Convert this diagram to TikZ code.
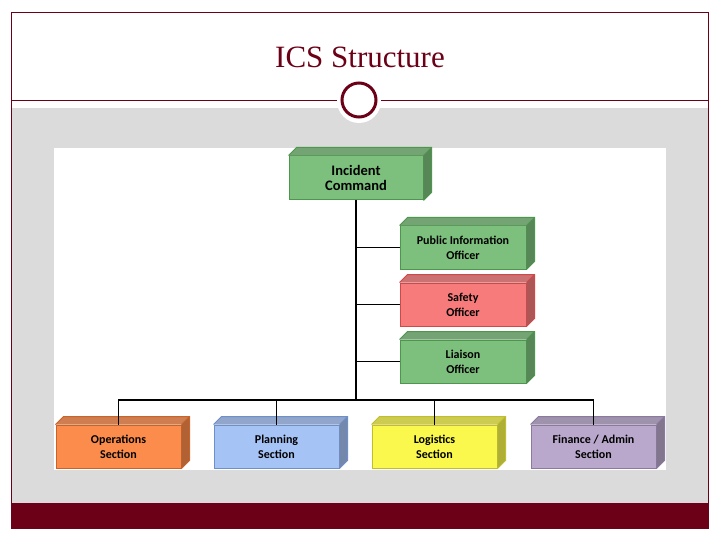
\documentclass[tikz,border=0pt]{standalone}
\usepackage{fontspec}
\setmainfont{Liberation Serif}
\newfontfamily\boxfont{Carlito}
\definecolor{maroon}{HTML}{6B0016}
\definecolor{gfill}{HTML}{7DC07D}\definecolor{gline}{HTML}{4E954E}
\definecolor{rfill}{HTML}{F77B7B}\definecolor{rline}{HTML}{D04848}
\definecolor{ofill}{HTML}{FB8C4C}\definecolor{oline}{HTML}{C8642A}
\definecolor{bfill}{HTML}{A6C3F5}\definecolor{bline}{HTML}{6F8FC8}
\definecolor{yfill}{HTML}{FAF84C}\definecolor{yline}{HTML}{C0BE30}
\definecolor{pfill}{HTML}{B9A8CC}\definecolor{pline}{HTML}{8A7AA0}
\tikzset{
  unit/.style={draw=#1line, fill=#1fill, line width=1pt, align=center,
    font=\boxfont\bfseries\fontsize{12}{15}\selectfont, inner sep=0pt},
  link/.style={line width=1.8pt, black}
}
% \cube{name}{colour key}{x}{y}{width}{height}{text}
\newcommand{\cube}[7]{%
  \node[unit=#2, minimum width=#5pt, minimum height=#6pt] (#1) at (#3,#4) {#7};
  \fill[#2fill!80!black!90] (#1.north west) -- ++(8,-8) -- ([shift={(8,-8)}]#1.north east) -- (#1.north east) -- cycle;
  \fill[#2fill!70!black] (#1.north east) -- ++(8,-8) -- ([shift={(8,-8)}]#1.south east) -- (#1.south east) -- cycle;
  \draw[#2line, line width=1pt] (#1.north west) -- ++(8,-8) -- ([shift={(8,-8)}]#1.north east) -- ([shift={(8,-8)}]#1.south east) -- (#1.south east)
    (#1.north east) -- ++(8,-8);
}
\begin{document}
\begin{tikzpicture}[x=1pt, y=-1pt]
\useasboundingbox (0,0) rectangle (720,540);
\fill[white] (0,0) rectangle (720,540);
\fill[black!14] (11,108) rectangle (708,503);
\fill[maroon] (11,503) rectangle (708,528);
\draw[maroon, line width=0.8pt] (11,12) rectangle (708,528);
\draw[maroon, line width=0.8pt] (11,100) -- (708,100);
\fill[white] (359,101) circle (22);
\draw[maroon, line width=3pt, fill=white] (359,100) circle (17);
\node[text=maroon, font=\fontsize{31}{34}\selectfont] (title) at (360,57) {ICS Structure};
\fill[white] (54,148) rectangle (666,470);

\cube{ic}{g}{356}{178}{134}{44}{\fontsize{14.5}{20}\selectfont Incident\\\fontsize{14.5}{20}\selectfont Command}
\cube{pio}{g}{463}{247.5}{126}{43}{Public Information\\Officer}
\cube{so}{r}{463}{304.5}{126}{43}{Safety\\Officer}
\cube{lo}{g}{463}{361.5}{126}{43}{Liaison\\Officer}
\cube{ops}{o}{118.5}{446.5}{125}{43}{Operations\\Section}
\cube{pln}{b}{276.5}{446.5}{125}{43}{Planning\\Section}
\cube{log}{y}{434.5}{446.5}{125}{43}{Logistics\\Section}
\cube{fin}{p}{593.5}{446.5}{125}{43}{Finance / Admin\\Section}

\coordinate (bus) at (356,400);
\draw[link] (ic.south) -- (bus);
\draw[link] (pio.west) -- (pio.west -| bus);
\draw[link] (so.west) -- (so.west -| bus);
\draw[link] (lo.west) -- (lo.west -| bus);
\draw[link] (ops.north) -- (ops.north |- bus) -- (fin.north |- bus) -- (fin.north);
\draw[link] (pln.north) -- (pln.north |- bus);
\draw[link] (log.north) -- (log.north |- bus);
\end{tikzpicture}
\end{document}
